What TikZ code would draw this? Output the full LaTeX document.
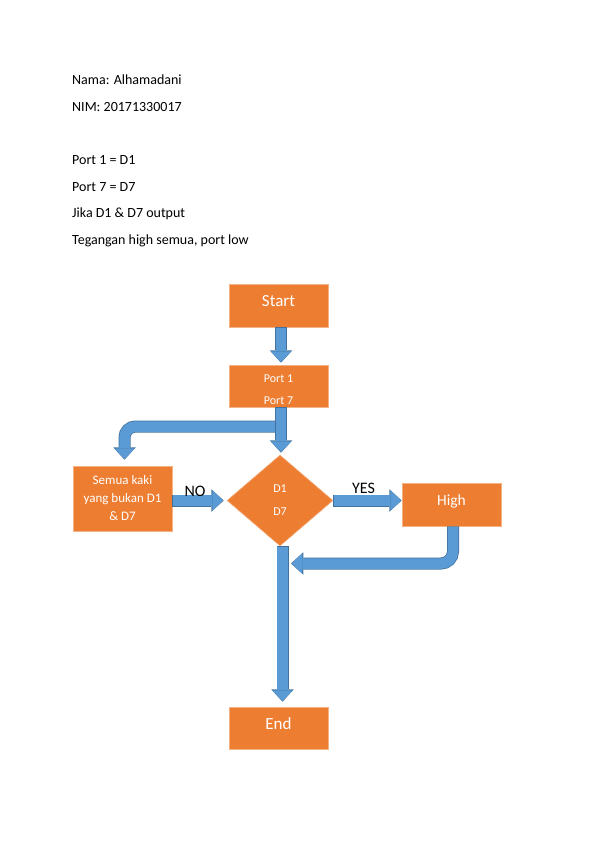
\documentclass[tikz,border=0pt]{standalone}
\usepackage{fontspec}
\setmainfont{Carlito}
\usetikzlibrary{shapes.geometric,arrows.meta}
\definecolor{boxorange}{HTML}{ED7D31}
\definecolor{boxline}{HTML}{F4B183}
\definecolor{arrowfill}{HTML}{5B9BD5}
\definecolor{arrowline}{HTML}{41719C}
\tikzset{flowbox/.style={rectangle,fill=boxorange,draw=boxline,line width=0.6pt,text=white,inner sep=0pt,minimum width=99pt,minimum height=43pt,align=center}}
\tikzset{oneline/.style={text height=11pt,text depth=9pt}}
\tikzset{flowdiamond/.style={diamond,fill=boxorange,draw=boxline,line width=0.6pt,text=white,inner sep=0pt,minimum width=106pt,minimum height=91pt,align=center}}
\tikzset{flowarrow/.style={draw=arrowfill,line width=10.5pt,shorten >=0.8pt,shorten <=0.7pt,-{Triangle[length=10.5pt,width=20.5pt,line width=0pt,color=arrowfill]},preaction={draw=arrowline,line width=12pt,shorten >=0pt,shorten <=0pt,-{Triangle[length=12.3pt,width=22.5pt,line width=0pt,color=arrowline]}}}}
\tikzset{headtext/.style={anchor=base west,inner sep=0pt,font=\fontsize{14}{17}\selectfont}}
\tikzset{arrowlabel/.style={inner sep=0pt,font=\fontsize{16}{19}\selectfont}}

\begin{document}
\begin{tikzpicture}[x=1pt,y=-1pt]
	\useasboundingbox (0,0) rectangle (595,842);
	% write the header
	\node[headtext] (nama) at (72,84.5) {Nama: Alhamadani};
	\node[headtext] (nim) at (72,111.2) {NIM: 20171330017};
	\node[headtext] (port1) at (72,164.6) {Port 1 = D1};
	\node[headtext] (port7) at (72,191.3) {Port 7 = D7};
	\node[headtext] (jika) at (72,218) {Jika D1 \& D7 output};
	\node[headtext] (tegangan) at (72,244.7) {Tegangan high semua, port low};
	% draw the boxes
	\node[flowbox,oneline,font=\fontsize{17}{20}\selectfont] (start) at (278.5,305.5) {Start};
	\node[flowbox,minimum height=42pt,text height=37.5pt,font=\fontsize{12}{22}\selectfont] (port) at (278.5,386) {Port 1\\Port 7};
	\node[flowbox,minimum height=65pt,font=\fontsize{13}{18}\selectfont] (semua) at (122.5,498.5) {Semua kaki\\yang bukan D1\\\& D7};
	\node[flowdiamond,font=\fontsize{12}{23}\selectfont] (cek) at (280,500.5) {D1\\D7};
	\node[flowbox,oneline,font=\fontsize{15.5}{18}\selectfont] (high) at (451.5,504.5) {High};
	\node[flowbox,oneline,minimum height=42pt,font=\fontsize{17}{20}\selectfont] (end) at (278.5,728) {End};
	% draw the arrows
	\coordinate (split) at (281,426.5);
	\coordinate (merge) at (291,563.5);
	\draw[flowarrow,rounded corners=11pt] (split) -| ([xshift=2pt,yshift=6pt]semua.north);
	\draw[flowarrow] ([xshift=2.5pt]start.south) -- ([xshift=2.5pt,yshift=2pt]port.north);
	\draw[flowarrow] ([xshift=2.5pt]port.south) -- ([xshift=1pt,yshift=2pt]cek.north);
	\draw[flowarrow] (semua.east |- cek.west) -- ([xshift=-3pt]cek.west);
	\draw[flowarrow] (cek.east) -- (cek.east -| high.west);
	\draw[flowarrow,rounded corners=12pt] ([xshift=1.5pt]high.south) |- (merge);
	\draw[flowarrow] ([xshift=2.5pt]cek.south) -- ([xshift=4pt,yshift=5pt]end.north);
	% label the branches
	\node[arrowlabel] (no) at (195,491) {NO};
	\node[arrowlabel] (yes) at (363.5,488) {YES};
\end{tikzpicture}
\end{document}
